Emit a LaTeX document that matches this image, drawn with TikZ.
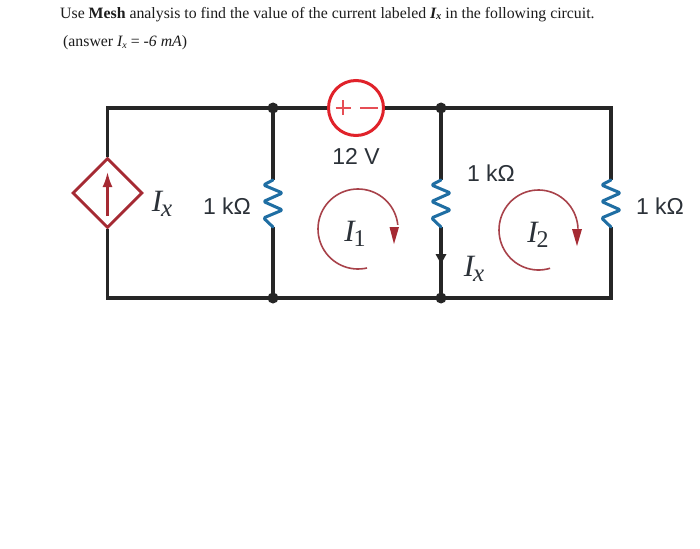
\documentclass[tikz,border=0pt]{standalone}
\usepackage{fontspec}
\setmainfont{Liberation Serif}
\newfontfamily\lblfont{Liberation Sans}
\usetikzlibrary{shapes.geometric,arrows.meta}
\definecolor{wirec}{HTML}{262626}
\definecolor{srcred}{HTML}{A52A33}
\definecolor{volt}{HTML}{E0222A}
\definecolor{resc}{HTML}{1F6EA3}
\definecolor{labc}{HTML}{2B3138}
\definecolor{arcc}{HTML}{A8424A}
\definecolor{txtc}{HTML}{1C1C1C}
\newcommand{\Ixlabel}{\fontsize{31}{31}\selectfont\itshape I\kern-1pt\raisebox{-5pt}{\fontsize{25}{25}\selectfont x}}
\newcommand{\Imesh}[1]{\fontsize{31}{31}\selectfont\itshape I\kern-1pt\raisebox{-5pt}{\fontsize{24}{24}\selectfont\upshape #1}}
\tikzset{
  x=1pt,y=-1pt,
  wire/.style={draw=wirec,line width=3.6pt,line join=miter},
  junction/.style={circle,fill=wirec,minimum size=11pt,inner sep=0pt,outer sep=0pt},
  resistor/.style={draw=resc,line width=3pt,line join=round,line cap=round,rounded corners=1.5pt},
  val/.style={font=\lblfont\fontsize{23}{23}\selectfont,text=labc,inner sep=0pt},
  sym/.style={text=labc,inner sep=0pt},
  meshloop/.style={draw=arcc,line width=1.6pt},
  head/.style={fill=#1,draw=none},
  para/.style={anchor=base west,inner sep=0pt,text=txtc,font=\fontsize{15.8}{16}\selectfont},
}
\begin{document}
\begin{tikzpicture}
\useasboundingbox (0,0) rectangle (700,548);
\fill[white] (0,0) rectangle (700,548);

% text
\node[para] (line1) at (60,18.5) {Use \textbf{Mesh} analysis to find the value of the current labeled \textbf{\textit{I\raisebox{-1.5pt}{\fontsize{10.5}{10.5}\selectfont x}}} in the following circuit.};
\node[para] (line2) at (63,47) {(answer \textit{I\raisebox{-1.5pt}{\fontsize{10}{10}\selectfont x}} = \textit{-6 mA})};

% corners and junctions
\coordinate (tl) at (107.5,108);
\coordinate (bl) at (107.5,298);
\coordinate (tr) at (611,108);
\coordinate (br) at (611,298);
\node[junction] (t1) at (273,108) {};
\node[junction] (b1) at (273,298) {};
\node[junction] (t2) at (441,108) {};
\node[junction] (b2) at (441,298) {};

% sources
\node[diamond,aspect=1,draw=srcred,line width=2.8pt,minimum size=70pt,inner sep=0pt] (cs) at (107.5,193) {};
\node[circle,draw=volt,line width=3pt,minimum size=55pt,inner sep=0pt] (vs) at (356,108) {};

% wires
\draw[wire] (cs.north) -- (tl) -- (t1.center) -- (vs.west);
\draw[wire] (vs.east) -- (t2.center) -- (tr) -- (611,180);
\draw[wire] (cs.south) -- (bl) -- (b1.center) -- (b2.center) -- (br) -- (611,227);
\draw[wire] (t1.center) -- (273,180);
\draw[wire] (273,227) -- (b1.center);
\draw[wire] (t2.center) -- (441,180);
\draw[wire] (441,227) -- (b2.center);

% resistors
\foreach \rx in {273,441,611}{
  \draw[resistor] (\rx,180) -- ++(-9.5,5) -- ++(19,8) -- ++(-19,8.5) -- ++(19,8.5) -- ++(-19,8) -- ++(9.5,9);
}

% source symbols
\draw[srcred,line width=2.2pt,-{Latex[length=15pt,width=10pt]}] (107.5,216) -- (107.5,172);
\draw[volt!80!white,line width=1.1pt] (335.5,108) -- (350.5,108) (343,100.5) -- (343,115.5);
\draw[volt!80!white,line width=1.3pt] (360,108) -- (378,108);

% current arrow on the middle branch
\fill[wirec] (435.5,254) -- (446.5,254) -- (441,264) -- cycle;

% mesh loops
\draw[meshloop] plot[domain=77:354,samples=60,smooth] ({358+40*cos(\x)},{229+40*sin(\x)});
\fill[head=srcred] (389.5,227) -- (399,227) -- (394,244) -- cycle;
\draw[meshloop] plot[domain=73:358,samples=60,smooth] ({538.5+39.5*cos(\x)},{230+40*sin(\x)});
\fill[head=srcred] (572,229) -- (582,229) -- (577,246) -- cycle;

% labels
\node[val] (v12) at (356,156) {12 V};
\node[val] (r1) at (227,206) {1 kΩ};
\node[val] (r2) at (491,173) {1 kΩ};
\node[val] (r3) at (660,206) {1 kΩ};
\node[sym] (ix1) at (162,204) {\Ixlabel};
\node[sym] (ix2) at (474,269) {\Ixlabel};
\node[sym] (i1) at (355,234) {\Imesh{1}};
\node[sym] (i2) at (538,235) {\Imesh{2}};
\end{tikzpicture}
\end{document}
